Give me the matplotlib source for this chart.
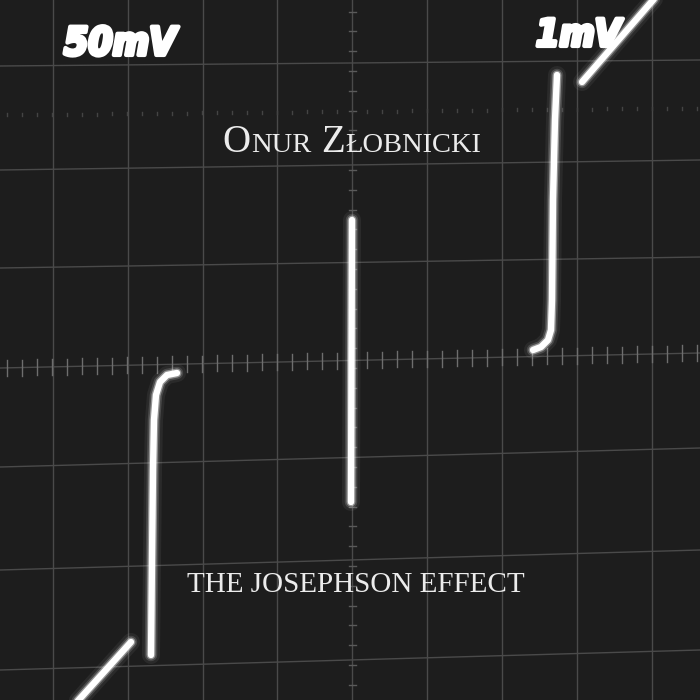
import matplotlib
matplotlib.use("Agg")
import matplotlib.pyplot as plt
import matplotlib.patheffects as pe
import numpy as np

# graticule (pixel positions)
grid_x = [53, 128, 203, 277, 352, 427, 502, 577, 652]
grid_y_left = [66, 170, 268, 368, 467, 570, 670]
grid_y_right = [60, 160, 257, 353, 448, 550, 650]

# trace pieces
left_ramp_x = [76, 104, 131]
left_ramp_y = [703, 672, 642]
left_step_x = [151, 152, 153, 154, 156, 160, 167, 177]
left_step_y = [655, 560, 470, 420, 395, 382, 375, 373]
mid_x = [351, 352]
mid_y = [502, 220]
right_step_x = [533, 541, 548, 551, 552, 553, 555, 557]
right_step_y = [350, 347, 340, 330, 300, 200, 120, 75]
right_ramp_x = [582, 660]
right_ramp_y = [82, -8]

artist = ["O", "NUR", "Z", "ŁOBNICKI"]
album = "THE JOSEPHSON EFFECT"
scale_left = "50mV"
scale_right = "1mV"

bg = "#1d1d1d"
fig = plt.figure(figsize=(7, 7), dpi=100)
fig.patch.set_facecolor(bg)
ax = fig.add_axes([0, 0, 1, 1])
ax.set_facecolor(bg)
ax.set_xlim(0, 700)
ax.set_ylim(700, 0)
ax.axis("off")

gcol = "#4a4a4a"
# grid
for gx in grid_x:
    ax.plot([gx, gx], [0, 700], color=gcol, lw=1.0)
for yl, yr in zip(grid_y_left, grid_y_right):
    ax.plot([0, 700], [yl, yr], color=gcol, lw=1.0)


def center_y(x):
    return grid_y_left[3] + (grid_y_right[3] - grid_y_left[3]) * x / 700.0


# small ticks on the center lines
for tx in np.arange(352 % 15, 700, 15):
    cy = center_y(tx)
    ax.plot([tx, tx], [cy - 8, cy + 8], color="#6e6e6e", lw=1.0)
for ty in np.arange(368 % 19.8, 700, 19.8):
    ax.plot([349, 356], [ty, ty], color="#5a5a5a", lw=1.0)
# dotted row near the top
for tx in np.arange(352 % 15, 700, 15):
    ty = 115 + (108 - 115) * tx / 700.0
    ax.plot([tx, tx], [ty - 1.5, ty + 1.5], color="#444444", lw=1.0)

# traces with glow
segs = [(left_ramp_x, left_ramp_y), (left_step_x, left_step_y), (mid_x, mid_y),
        (right_step_x, right_step_y), (right_ramp_x, right_ramp_y)]
for sx, sy in segs:
    for lw, a in [(13, 0.06), (9, 0.15), (6.5, 0.4), (4.6, 1.0)]:
        ax.plot(sx, sy, color="white", lw=lw, alpha=a, solid_capstyle="round",
                solid_joinstyle="round")

# scale labels
glow = [pe.withStroke(linewidth=3, foreground="white")]
ax.text(64, 55, scale_left, fontsize=28, color="white", fontweight="bold",
        fontstyle="italic", family="DejaVu Sans", fontstretch="condensed",
        va="baseline", path_effects=glow)
ax.text(536, 46, scale_right, fontsize=27, color="white", fontweight="bold",
        fontstyle="italic", family="DejaVu Sans", fontstretch="condensed",
        va="baseline", path_effects=glow)

# titles
fig.canvas.draw()
renderer = fig.canvas.get_renderer()


def small_caps(parts, sizes, gaps, xc, yb):
    texts = []
    for p, s in zip(parts, sizes):
        t = ax.text(0, yb, p, fontsize=s, color="#ececec", family="Liberation Serif",
                    va="baseline", ha="left")
        texts.append(t)
    widths = [t.get_window_extent(renderer).width for t in texts]
    total = sum(widths) + sum(gaps)
    x = xc - total / 2.0
    for t, w, g in zip(texts, widths, gaps + [0]):
        t.set_x(x)
        x += w + g


small_caps(artist, [28, 20.5, 28, 20.5], [1, 9, 1], 352, 152)
ax.text(356, 592, album, fontsize=21, color="#ececec", family="Liberation Serif",
        va="baseline", ha="center")

fig.savefig("out.png", dpi=100, facecolor=bg)
